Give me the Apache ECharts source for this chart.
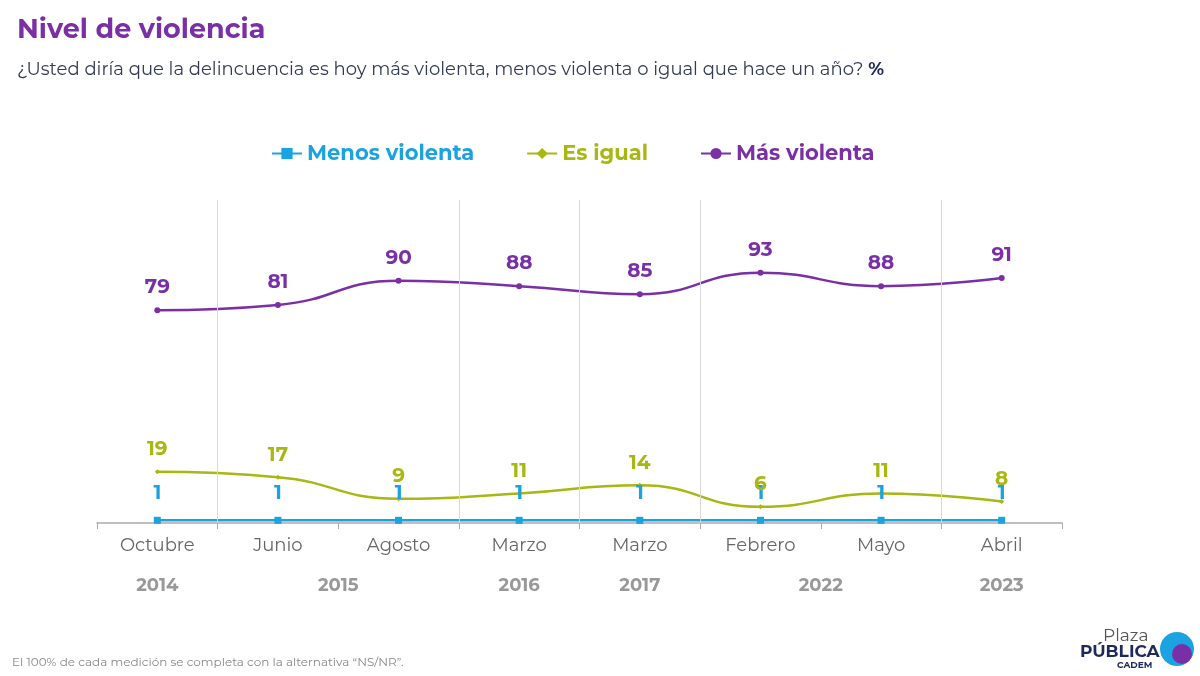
<!DOCTYPE html>
<html>
<head>
<meta charset="utf-8">
<script src="https://cdn.jsdelivr.net/npm/echarts@6/dist/echarts.min.js"></script>
</head>
<body style="margin:0;background:#fff;">
<div id="container" style="width:1200px;height:676px;"></div>
<script type="text/javascript">
    var months = ['Octubre', 'Junio', 'Agosto', 'Marzo', 'Marzo', 'Febrero', 'Mayo', 'Abril'];
    var menos = [1, 1, 1, 1, 1, 1, 1, 1];
    var igual = [19, 17, 9, 11, 14, 6, 11, 8];
    var mas = [79, 81, 90, 88, 85, 93, 88, 91];
    // year labels placed on a 0..8 scale (category centers at i+0.5)
    var yearPos = { '0.5': '2014', '2': '2015', '3.5': '2016', '4.5': '2017', '6': '2022', '7.5': '2023' };
    var separators = [1, 3, 4, 5, 7];

    var font = 'Montserrat, "Noto Sans", sans-serif';
    var myChart = echarts.init(document.getElementById('container'));

    function lineSeries(name, data, color, symbol, size, labelOffset) {
        return {
            name: name,
            type: 'line',
            smooth: true,
            data: data,
            symbol: symbol,
            symbolSize: size,
            itemStyle: { color: color },
            lineStyle: { width: 2.5, color: color },
            label: {
                show: true, position: 'top', distance: labelOffset,
                color: color, fontSize: 20, fontWeight: 'bold', fontFamily: font
            }
        };
    }

    var option = {
        title: [{
            text: 'Nivel de violencia',
            left: 12, top: 12,
            textStyle: { color: '#7b2fa6', fontSize: 27, fontWeight: 'bold', fontFamily: font }
        }, {
            text: '¿Usted diría que la delincuencia es hoy más violenta, menos violenta o igual que hace un año? {b|%}',
            left: 12, top: 56,
            textStyle: {
                color: '#333a56', fontSize: 18, fontWeight: 'normal', fontFamily: font,
                rich: { b: { fontSize: 18, fontWeight: 'bold', color: '#1f2a5a', fontFamily: font } }
            }
        }],
        legend: {
            top: 138, left: 266, itemGap: 52, itemWidth: 30,
            data: ['Menos violenta', 'Es igual', 'Más violenta'],
            textStyle: { fontSize: 21, fontWeight: 'bold', fontFamily: font, color: 'inherit' }
        },
        grid: { left: 97, right: 138, top: 200, bottom: 153 },
        xAxis: [{
            type: 'category',
            data: months,
            axisLine: { lineStyle: { color: '#aaaaaa', width: 1.5 } },
            axisTick: { show: true, length: 6, lineStyle: { color: '#aaaaaa' } },
            axisLabel: { color: '#666', fontSize: 18, margin: 14, fontFamily: font }
        }, {
            type: 'value',
            position: 'bottom',
            min: 0, max: 8, interval: 0.5,
            offset: 46,
            axisLine: { show: false }, axisTick: { show: false }, splitLine: { show: false },
            axisLabel: {
                color: '#999', fontSize: 18, fontWeight: 'bold', fontFamily: font,
                showMinLabel: false, showMaxLabel: true,
                formatter: function (v) { return yearPos[String(v)] || ''; }
            }
        }],
        yAxis: {
            type: 'value', min: 0, max: 120, show: false, splitLine: { show: false }
        },
        series: [
            {
                type: 'line', xAxisIndex: 1, data: [], silent: true,
                markLine: {
                    symbol: 'none', silent: true, label: { show: false },
                    lineStyle: { color: '#d8d8d8', type: 'solid', width: 1 },
                    data: separators.map(function (s) { return [{ coord: [s, 0] }, { coord: [s, 120] }]; })
                }
            },
            lineSeries('Menos violenta', menos, '#1aa3e0', 'rect', 7, 14),
            lineSeries('Es igual', igual, '#a8b711', 'diamond', 5, 10),
            lineSeries('Más violenta', mas, '#7b2fa6', 'circle', 6, 10)
        ],
        graphic: [{
            type: 'text', left: 12, top: 656,
            style: { text: 'El 100% de cada medición se completa con la alternativa “NS/NR”.', fill: '#888', fontSize: 12, fontFamily: font }
        }, {
            type: 'text', left: 1103, top: 627,
            style: { text: 'Plaza', fill: '#555', fontSize: 17, fontFamily: font }
        }, {
            type: 'text', left: 1080, top: 643,
            style: { text: 'PÚBLICA', fill: '#1f2a5a', fontSize: 17, fontWeight: 'bold', fontFamily: font }
        }, {
            type: 'text', left: 1117, top: 661,
            style: { text: 'CADEM', fill: '#1f2a5a', fontSize: 9, fontWeight: 'bold', fontFamily: font }
        }, {
            type: 'circle', left: 1160, top: 632, shape: { r: 17 },
            style: { fill: '#1aa3e0' }
        }, {
            type: 'circle', left: 1172, top: 644, shape: { r: 10 },
            style: { fill: '#7b2fa6' }
        }]
    };
    myChart.setOption(option);
</script>
</body>
</html>
